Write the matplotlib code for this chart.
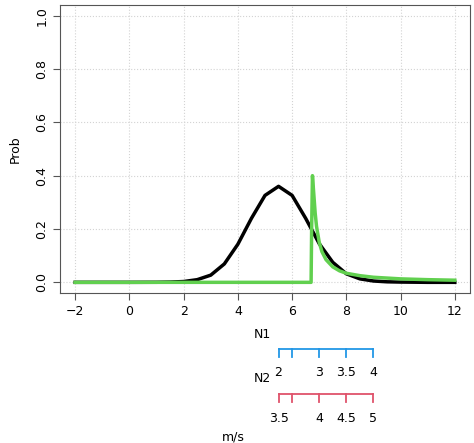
import matplotlib
matplotlib.use("Agg")
import matplotlib.pyplot as plt
import matplotlib.transforms as mtransforms

black_x = [-2, 0, 1, 1.5, 2, 2.5, 3, 3.5, 4, 4.5, 5, 5.5, 6, 6.5, 7, 7.5, 8, 8.5, 9, 9.5, 10, 11, 12]
black_y = [0, 0, 0.0002, 0.001, 0.003, 0.01, 0.027, 0.069, 0.143, 0.24, 0.326, 0.36, 0.326, 0.24, 0.145, 0.075, 0.032, 0.013, 0.005, 0.002, 0.001, 0, 0]
green_x = [-2, 6.7, 6.72, 6.75, 6.8, 6.85, 6.9, 7.0, 7.1, 7.25, 7.5, 7.75, 8, 8.5, 9, 10, 11, 12]
green_y = [0, 0, 0.2, 0.4, 0.33, 0.26, 0.21, 0.15, 0.115, 0.085, 0.058, 0.043, 0.034, 0.025, 0.019, 0.013, 0.01, 0.008]

n1_labels = ["2", "", "3", "3.5", "4"]
n2_labels = ["3.5", "", "4", "4.5", "5"]
scale_pos = [5.5, 6.0, 7.0, 8.0, 9.0]

fig = plt.figure(figsize=(4.74, 4.43), dpi=100)
ax = fig.add_axes([60/474, 1-293/443, 410/474, 288/443])
ax.set_xlim(-2.56, 12.56)
ax.set_ylim(-0.04, 1.04)
ax.grid(True, color="#d3d3d3", linestyle=":", linewidth=0.8)
ax.plot(black_x, black_y, color="black", lw=2.5)
ax.plot(green_x, green_y, color="#61d04f", lw=2.5)
ax.set_xticks(range(-2, 13, 2))
ax.set_yticks([0, 0.2, 0.4, 0.6, 0.8, 1.0])
ax.set_yticklabels(["0.0", "0.2", "0.4", "0.6", "0.8", "1.0"], rotation=90, va="center")
ax.tick_params(labelsize=9, length=5, color="#555555")
for s in ax.spines.values():
    s.set_color("#555555")
ax.set_ylabel("Prob", fontsize=9, labelpad=10)

tr = mtransforms.blended_transform_factory(ax.transData, fig.transFigure)
def scale(yline, color, labels, ylab, name):
    yl = 1 - yline/443
    ax.plot([scale_pos[0], scale_pos[-1]], [yl, yl], color=color, lw=1.3, transform=tr, clip_on=False)
    for p, l in zip(scale_pos, labels):
        ax.plot([p, p], [yl, yl - 8/443], color=color, lw=1.3, transform=tr, clip_on=False)
        if l:
            ax.text(p, 1 - ylab/443, l, transform=tr, ha="center", va="center", fontsize=9)
    fig.text(262/474, 1 - (yline - 15)/443, name, ha="center", va="center", fontsize=9)

scale(349, "#2297e6", n1_labels, 372, "N1")
scale(394, "#df536b", n2_labels, 419, "N2")
fig.text(233/474, 1 - 437/443, "m/s", ha="center", va="center", fontsize=9)
fig.savefig("out.png", dpi=100)
